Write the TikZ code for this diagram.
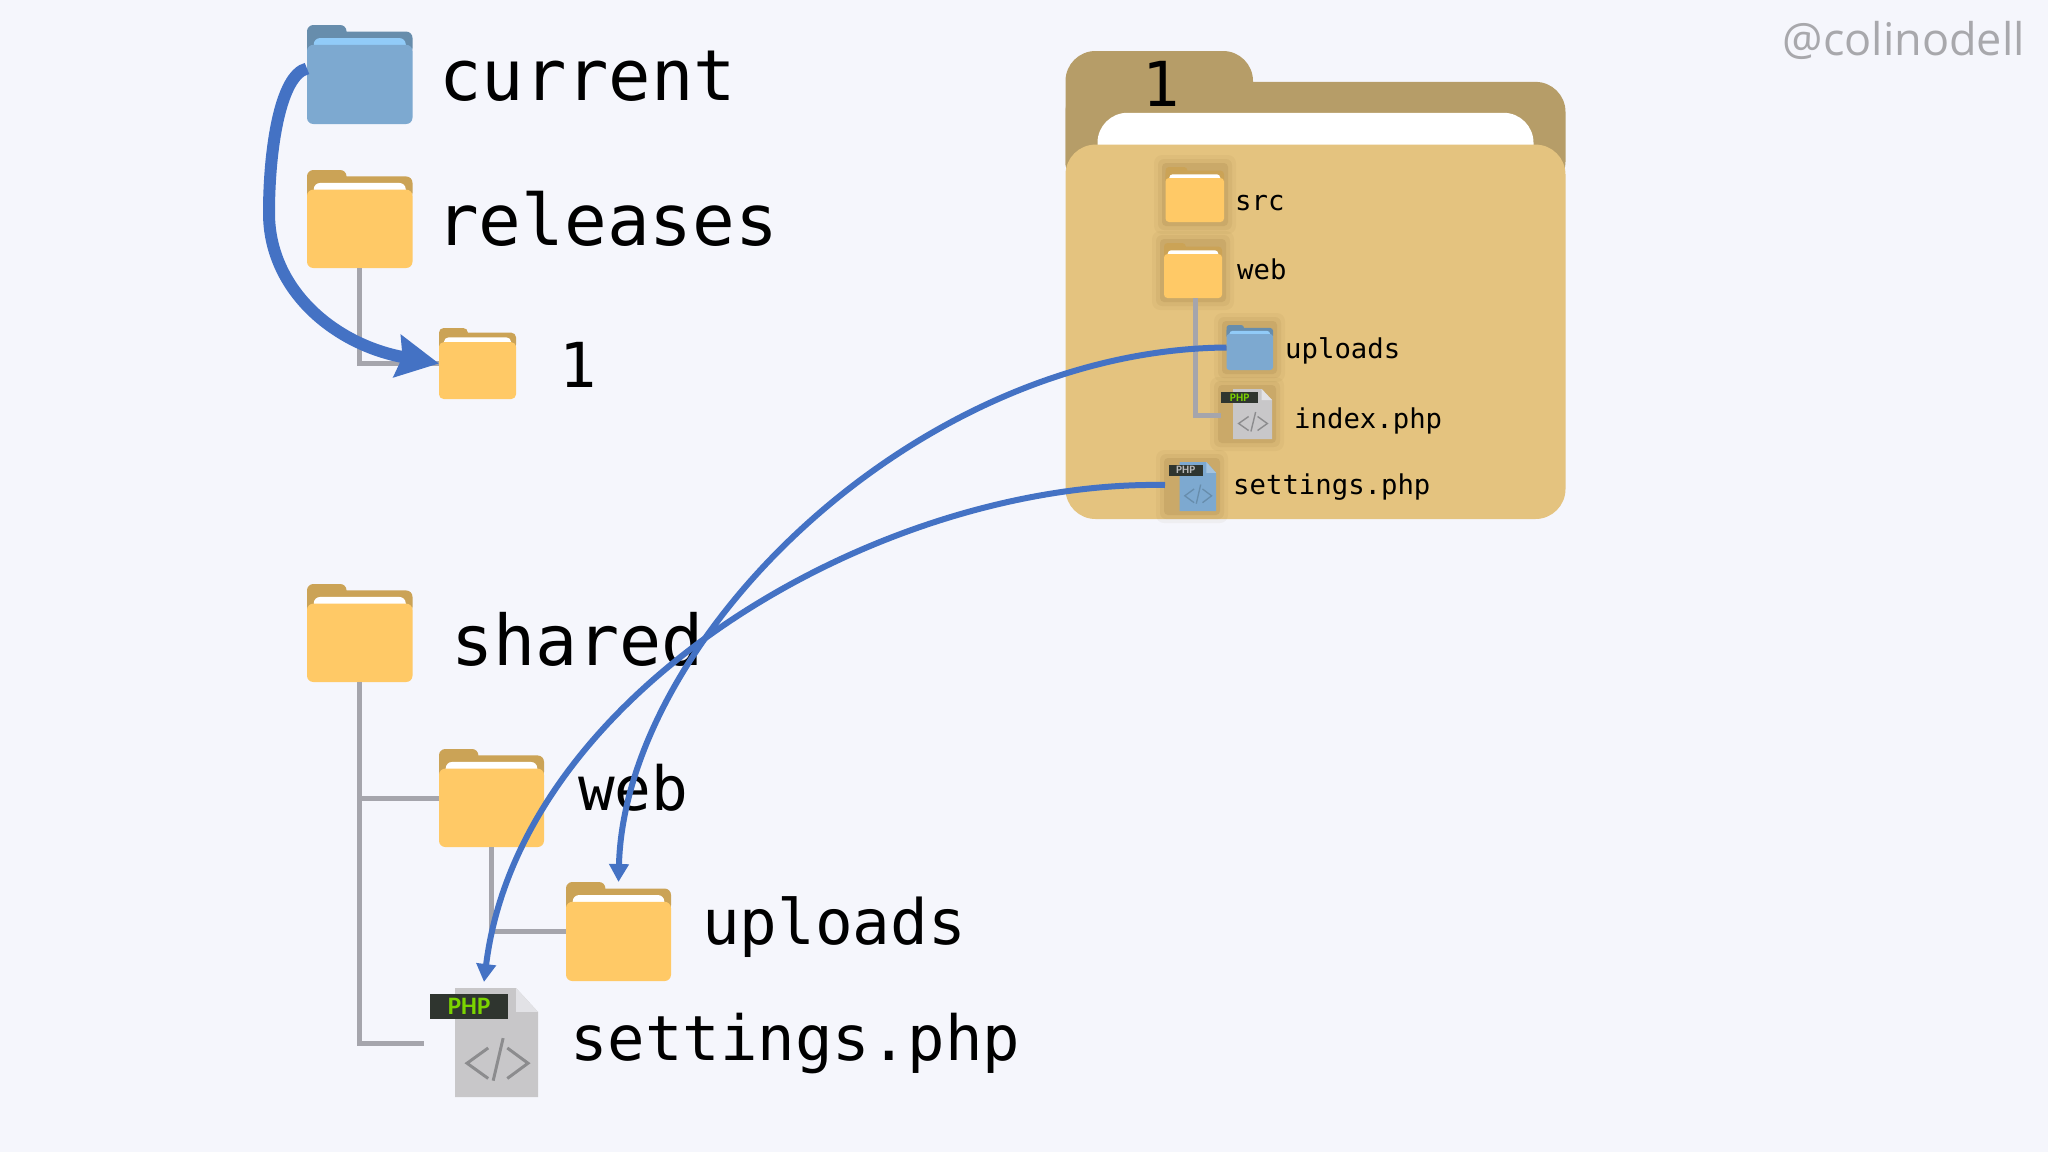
\documentclass[tikz,border=0pt]{standalone}
\usepackage{fontspec}
\usetikzlibrary{arrows.meta}
\newfontfamily\codefont{DejaVu Sans Mono}
\newfontfamily\wmfont{Open Sans}
\newfontfamily\phpfont{Carlito}[BoldFont={Carlito Bold}]
\definecolor{bgc}{HTML}{F5F6FC}
\definecolor{ybk}{HTML}{CBA356}
\definecolor{yfr}{HTML}{FFC966}
\definecolor{bbk}{HTML}{678DAC}
\definecolor{bpa}{HTML}{91CBF8}
\definecolor{bfr}{HTML}{7DA9D0}
\definecolor{gbk}{HTML}{B69D68}
\definecolor{gfr}{HTML}{E4C37F}
\definecolor{treeg}{HTML}{A5A5AC}
\definecolor{arrb}{HTML}{4472C4}
\definecolor{halo}{HTML}{7A5F2A}
\definecolor{barc}{HTML}{2F352F}
\definecolor{phpg}{HTML}{7BD400}
\definecolor{wmc}{HTML}{A8A8AC}
\definecolor{ficon}{HTML}{C8C7C9}
\definecolor{ffold}{HTML}{E2E2E6}
\definecolor{fcode}{HTML}{8C8C8E}
\tikzset{
  tree/.style={draw=treeg,line width=5pt},
  link/.style={draw=arrb,line width=6pt,-{Triangle[length=18pt,width=19pt]}},
  linkbig/.style={draw=arrb,line width=12pt,-{Stealth[length=42pt,width=42pt,inset=5pt]}},
  lab/.style={anchor=base west,inner sep=0pt,text=black,font=\codefont\fontsize{68}{80}\selectfont},
  labs/.style={anchor=base west,inner sep=0pt,text=black,font=\codefont\fontsize{27.3}{32}\selectfont},
  hit/.style={inner sep=0pt,outer sep=0pt}
}
% name x y w h back paper front
\newcommand\folderico[8]{%
  \pgfmathsetmacro\rr{0.06*#4}%
  \begin{scope}[shift={(#2,#3)},x=#4pt,y=-#5pt]
    \fill[#6,rounded corners=\rr pt] (0,0) rectangle (.375,.3);
    \fill[#6,rounded corners=\rr pt] (0,.066) rectangle (1,.3);
    \fill[#7,rounded corners=\rr pt] (.064,.132) rectangle (.936,.3);
    \fill[#8,rounded corners=\rr pt] (0,.2) rectangle (1,1);
    \node[hit,minimum width=#4pt,minimum height=#5pt] (#1) at (.5,.5) {};
  \end{scope}}
% name x y w h body fold code phptext
\newcommand\phpico[9]{%
  \pgfmathsetmacro\cw{0.036*#4}%
  \pgfmathsetmacro\fs{0.23*#5}%
  \begin{scope}[shift={(#2,#3)},x=#4pt,y=-#5pt]
    \fill[#6] (0,0) -- (.735,0) -- (1,.22) -- (1,1) -- (0,1) -- cycle;
    \fill[#7] (.735,0) -- (1,.22) -- (.735,.22) -- cycle;
    \draw[#8,line width=\cw pt] (.4,.55) -- (.145,.69) -- (.4,.83);
    \draw[#8,line width=\cw pt] (.58,.46) -- (.46,.85);
    \draw[#8,line width=\cw pt] (.63,.55) -- (.88,.69) -- (.63,.83);
    \fill[barc] (-.30,.055) rectangle (.64,.285);
    \node[hit,text=#9,font=\phpfont\bfseries\fontsize{\fs}{\fs}\selectfont] at (.17,.17) {PHP};
    \node[hit,minimum width=#4pt,minimum height=#5pt] (#1) at (.5,.5) {};
  \end{scope}}
% x0 y0 x1 y1
\newcommand\haloglow[4]{%
  \fill[halo,opacity=.05,rounded corners=8pt] (#1-12,#2-12) rectangle (#3+12,#4+12);
  \fill[halo,opacity=.08,rounded corners=6pt] (#1-8,#2-8) rectangle (#3+8,#4+8);
  \fill[halo,opacity=.13,rounded corners=4pt] (#1-4,#2-4) rectangle (#3+4,#4+4);
}
\begin{document}
\begin{tikzpicture}[x=1pt,y=-1pt]
\useasboundingbox (0,0) rectangle (2048,1152);
\fill[bgc] (0,0) rectangle (2048,1152);

% big folder
\folderico{big}{1065.5}{51}{500}{468}{gbk}{white}{gfr}
\node[lab,anchor=base] (bigone) at (1161,106) {\fontsize{62}{70}\selectfont 1};

% inner icons
\haloglow{1166}{167}{1224}{222}
\haloglow{1164}{243}{1222}{298}
\haloglow{1226}{325}{1273}{370}
\haloglow{1222}{389}{1272}{439}
\haloglow{1168}{462}{1216}{511}
\folderico{isrc}{1165.5}{167}{58.5}{55}{ybk}{white}{yfr}
\folderico{iweb}{1164}{243}{58}{55}{ybk}{white}{yfr}
\folderico{iup}{1226.5}{325}{46.5}{45}{bbk}{bpa}{bfr}
\phpico{iindex}{1233}{389}{39}{50}{ficon}{ffold}{fcode}{phpg}
\phpico{iset}{1179.5}{462}{36.5}{49}{bfr}{bfr!70}{bbk}{gray!55}
\coordinate (iindexleft) at (1221,415);
\draw[tree] ([xshift=2pt]iweb.south) |- (iindexleft);

\node[labs] (tsrc) at (1235,210) {src};
\node[labs] (tiweb) at (1237,279) {web};
\node[labs] (tiup) at (1285,358) {uploads};
\node[labs] (tiindex) at (1294,428) {index.php};
\node[labs] (tiset) at (1233,494) {settings.php};

% left tree
\folderico{cur}{307}{25}{105.5}{99}{bbk}{bpa}{bfr}
\folderico{rel}{307}{170}{105.5}{98}{ybk}{white}{yfr}
\folderico{one}{439}{328}{77}{71}{ybk}{white}{yfr}
\folderico{sha}{307}{584}{105.5}{98}{ybk}{white}{yfr}
\folderico{web}{439}{749}{105}{98}{ybk}{white}{yfr}
\folderico{upl}{566}{882}{105}{99}{ybk}{white}{yfr}
\phpico{set}{455}{988}{83}{109}{ficon}{ffold}{fcode}{phpg}

\coordinate (setleft) at (424,1043);
\draw[tree] (rel.south) |- (one.west);
\draw[tree] (sha.south) |- (setleft);
\draw[tree] (360,798) -- (web.west);
\draw[tree] (web.south) |- (upl.west);

\node[lab,font=\codefont\fontsize{70.5}{80}\selectfont] (tcur) at (439,100) {current};
\node[lab,font=\codefont\fontsize{71}{80}\selectfont] (trel) at (436,245) {releases};
\node[lab,anchor=base] (tone) at (578,387) {\fontsize{62}{70}\selectfont 1};
\node[lab,font=\codefont\fontsize{70}{80}\selectfont] (tsha) at (451,665) {shared};
\node[lab,font=\codefont\fontsize{61}{80}\selectfont] (tweb) at (578,810) {web};
\node[lab,font=\codefont\fontsize{62.6}{80}\selectfont] (tupl) at (702,944) {uploads};
\node[lab,font=\codefont\fontsize{62.3}{80}\selectfont] (tset) at (570,1060) {settings.php};

\node[anchor=base east,inner sep=0pt,text=wmc,font=\wmfont\fontsize{45}{50}\selectfont] (wm) at (2025,55) {@colinodell};

% arrows
\draw[linkbig] ([yshift=6pt]cur.west) .. controls (280,75) and (269,150) .. (269,213)
   .. controls (269,290) and (335,345) .. (one.west);
\draw[link] (iup.west) .. controls (915,350) and (625,640) .. (upl.north);
\draw[link] ([yshift=1.5pt]iset.west -| 1165,0) .. controls (880,480) and (520,690) .. (484,982);
\end{tikzpicture}
\end{document}
